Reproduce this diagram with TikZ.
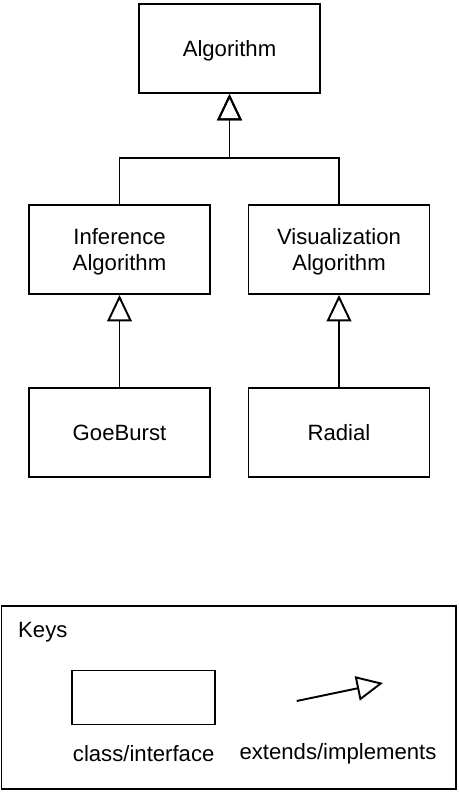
\documentclass[tikz,border=0pt]{standalone}
\usepackage{fontspec}
\setmainfont{Liberation Sans}
\usetikzlibrary{arrows.meta}
\tikzset{
  classbox/.style={draw, line width=1.1pt, minimum width=3.62cm, minimum height=1.78cm,
    align=center, text depth=0pt, font=\fontsize{12.6}{15}\selectfont},
  extends/.style={line width=1.1pt, -{Triangle[open, length=15pt, width=14pt]}},
  keytext/.style={font=\fontsize{12.6}{15}\selectfont}
}
\begin{document}
\begin{tikzpicture}[x=0.02cm, y=-0.02cm, line join=miter]
    \useasboundingbox (0,0) rectangle (459,796);
    % classes
    \node[classbox] (alg) at (229.5,48.5) {Algorithm};
    \node[classbox] (inf) at (119.5,249.5) {Inference\\Algorithm};
    \node[classbox] (vis) at (339,249.5) {Visualization\\Algorithm};
    \node[classbox] (goe) at (119.5,432.5) {GoeBurst};
    \node[classbox] (rad) at (339,432.5) {Radial};
    \coordinate (split) at (229.5,158);
    % inheritance
    \draw[extends] (inf.north) |- (split) -- (alg.south);
    \draw[extends] (vis.north) |- (split) -- (alg.south);
    \draw[extends] (goe) -- (inf);
    \draw[extends] (rad) -- (vis);
    % keys
    \draw[line width=1.1pt] (1.5,606) rectangle (456,789);
    \node[keytext, anchor=west] (keys) at (12,632) {Keys};
    \node[draw, line width=1.1pt, minimum width=2.86cm, minimum height=1.08cm] (keyclass) at (143.7,697.5) {};
    \node[keytext] (keyclasstxt) at (143.7,754) {class/interface};
    \coordinate (keyfrom) at (296.7,701);
    \coordinate (keyto) at (383,683);
    \draw[extends] (keyfrom) -- (keyto);
    \node[keytext] (keyarrowtxt) at (338,754) {extends/implements};
\end{tikzpicture}
\end{document}
